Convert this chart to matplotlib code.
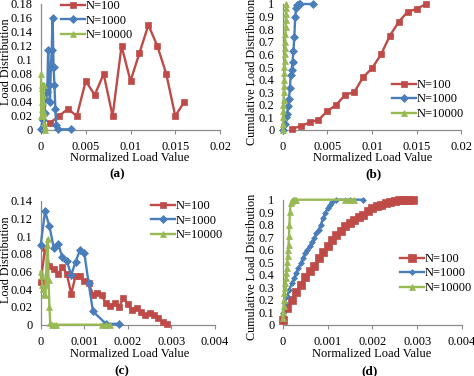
import matplotlib
matplotlib.use('Agg')
import matplotlib.pyplot as plt

# colours (Excel 2007 defaults)
RED = '#BE4B48'
BLUE = '#4A7EBB'
GREEN = '#98B954'
labels = ['N=100', 'N=1000', 'N=10000']

# ---- panel (a): load distribution
a_x100 = [0.001, 0.002, 0.003, 0.004, 0.005, 0.006, 0.007, 0.008, 0.009, 0.010, 0.011, 0.012, 0.013, 0.014, 0.015, 0.016]
a_y100 = [0.01, 0.02, 0.03, 0.02, 0.07, 0.05, 0.08, 0.02, 0.12, 0.07, 0.11, 0.15, 0.12, 0.08, 0.02, 0.04]
a_x1000 = [0.0, 0.0002, 0.0004, 0.0005, 0.0006, 0.0007, 0.0008, 0.0009, 0.0010, 0.0011, 0.0012, 0.0013, 0.0014, 0.0015, 0.0016, 0.0017, 0.0019, 0.0034]
a_y1000 = [0.002, 0.015, 0.025, 0.045, 0.06, 0.055, 0.115, 0.065, 0.04, 0.09, 0.115, 0.16, 0.09, 0.065, 0.03, 0.007, 0.001, 0.001]
a_x10000 = [0.0, 0.00003, 0.00006, 0.00009, 0.00012, 0.00015, 0.00018, 0.00021, 0.00024, 0.00027, 0.0003, 0.00033, 0.00036, 0.0004, 0.00045]
a_y10000 = [0.08, 0.02, 0.065, 0.04, 0.06, 0.03, 0.065, 0.05, 0.02, 0.04, 0.065, 0.025, 0.01, 0.005, 0.0]

# ---- panel (b): cumulative
b_x100 = a_x100
b_y100 = [0.01, 0.03, 0.06, 0.08, 0.15, 0.2, 0.28, 0.3, 0.42, 0.49, 0.6, 0.75, 0.86, 0.94, 0.96, 1.0]
b_x1000 = [0.0, 0.0003, 0.0004, 0.0005, 0.0006, 0.0007, 0.0008, 0.0009, 0.001, 0.0011, 0.0012, 0.0013, 0.0014, 0.0015, 0.0016, 0.0018, 0.0019, 0.0034]
b_y1000 = [0.0, 0.05, 0.1, 0.13, 0.19, 0.25, 0.33, 0.44, 0.48, 0.54, 0.63, 0.74, 0.9, 0.97, 0.99, 1.0, 1.0, 1.0]
b_x10000 = [0.0, 0.00002, 0.00004, 0.00006, 0.00008, 0.0001, 0.00012, 0.00014, 0.00016, 0.00018, 0.0002, 0.00022, 0.00024,
            0.00026, 0.00028, 0.0003, 0.00032, 0.00034, 0.00036, 0.00038, 0.0004]
b_y10000 = [0.0, 0.05, 0.1, 0.15, 0.2, 0.24, 0.3, 0.35, 0.4, 0.45, 0.5, 0.55, 0.6, 0.65, 0.7, 0.76, 0.82, 0.87, 0.92, 0.97, 1.0]

# ---- panel (c): load distribution (zoomed)
c_x100 = [0.0, 0.0001, 0.0002, 0.0003, 0.0004, 0.0005, 0.0006, 0.0007, 0.0008, 0.0009, 0.001, 0.0011, 0.0012, 0.0013, 0.0014,
          0.0015, 0.0016, 0.0017, 0.0018, 0.0019, 0.002, 0.0021, 0.0022, 0.0023, 0.0024, 0.0025, 0.0026, 0.0027, 0.0028, 0.0029]
c_y100 = [0.048, 0.087, 0.066, 0.063, 0.057, 0.065, 0.057, 0.035, 0.055, 0.055, 0.049, 0.047, 0.034, 0.036, 0.033,
          0.024, 0.021, 0.025, 0.02, 0.03, 0.023, 0.017, 0.019, 0.014, 0.011, 0.013, 0.011, 0.0075, 0.003, 0.001]
c_x1000 = [0.0, 0.0001, 0.0002, 0.0003, 0.0004, 0.0005, 0.0006, 0.0007, 0.0008, 0.0009, 0.001, 0.0011, 0.0012, 0.0015, 0.0018]
c_y1000 = [0.09, 0.128, 0.111, 0.087, 0.091, 0.076, 0.072, 0.056, 0.071, 0.084, 0.081, 0.047, 0.015, 0.001, 0.001]
c_x10000 = [0.0, 0.00002, 0.00004, 0.00006, 0.00008, 0.0001, 0.00012, 0.00014, 0.00016, 0.00018, 0.0002, 0.00022, 0.00025,
            0.0003, 0.00035, 0.0014, 0.0015, 0.0016]
c_y10000 = [0.06, 0.055, 0.045, 0.04, 0.035, 0.033, 0.045, 0.09, 0.097, 0.05, 0.02, 0.002, 0.0, 0.0, 0.0, 0.0, 0.0, 0.0]

# ---- panel (d): cumulative (zoomed)
d_x100 = c_x100
d_y100 = [0.04, 0.13, 0.2, 0.26, 0.32, 0.38, 0.43, 0.47, 0.53, 0.58, 0.63, 0.68, 0.72, 0.75, 0.79,
          0.81, 0.84, 0.86, 0.88, 0.91, 0.93, 0.95, 0.96, 0.975, 0.985, 0.99, 0.995, 1.0, 1.0, 1.0]
d_x1000 = [0.0, 0.00005, 0.0001, 0.00015, 0.0002, 0.00025, 0.0003, 0.00035, 0.0004, 0.00045, 0.0005, 0.00055, 0.0006,
           0.00065, 0.0007, 0.00075, 0.0008, 0.00085, 0.0009, 0.00095, 0.001, 0.00105, 0.0011, 0.0012, 0.0015, 0.0018]
d_y1000 = [0.09, 0.17, 0.23, 0.28, 0.33, 0.37, 0.41, 0.45, 0.49, 0.53, 0.57, 0.6, 0.63,
           0.66, 0.69, 0.73, 0.76, 0.8, 0.85, 0.89, 0.93, 0.96, 0.98, 1.0, 1.0, 1.0]
d_x10000 = [0.0, 0.00001, 0.00002, 0.00003, 0.00004, 0.00005, 0.00006, 0.00007, 0.00008, 0.00009, 0.0001, 0.00011, 0.00012,
            0.00013, 0.00014, 0.00015, 0.00016, 0.00018, 0.0002, 0.00022, 0.00025, 0.00028, 0.0003, 0.0014, 0.0015, 0.0016]
d_y10000 = [0.05, 0.1, 0.15, 0.2, 0.25, 0.29, 0.33, 0.37, 0.41, 0.45, 0.5, 0.55, 0.6,
            0.64, 0.71, 0.8, 0.9, 0.97, 0.99, 1.0, 1.0, 1.0, 1.0, 1.0, 1.0, 1.0]

plt.rcParams['font.family'] = ['Liberation Serif', 'DejaVu Serif']
plt.rcParams['font.size'] = 9

W, H = 474, 376
fig = plt.figure(figsize=(W / 100, H / 100), dpi=100)


def px_axes(x0, x1, ytop, ybot):
    return fig.add_axes([x0 / W, 1 - ybot / H, (x1 - x0) / W, (ybot - ytop) / H])


def style(ax, xlim, ylim, xticks, xlabels, yticks, ylabels):
    ax.set_xlim(*xlim)
    ax.set_ylim(*ylim)
    ax.set_xticks(xticks)
    ax.set_xticklabels(xlabels)
    ax.set_yticks(yticks)
    ax.set_yticklabels(ylabels)
    for s in ['top', 'right']:
        ax.spines[s].set_visible(False)
    for s in ['left', 'bottom']:
        ax.spines[s].set_color('#8c8c8c')
        ax.spines[s].set_linewidth(0.9)
    ax.tick_params(axis='x', length=3, width=0.8, color='#8c8c8c', pad=5)
    ax.tick_params(axis='y', length=0, pad=6)
    for sp in ax.spines.values():
        sp.set_zorder(0)


def draw(ax, data, sizes):
    cols = [RED, BLUE, GREEN]
    marks = ['s', 'D', '^']
    for (x, y), c, m, ms, lab in zip(data, cols, marks, sizes, labels):
        ax.plot(x, y, color=c, marker=m, markersize=ms, lw=1.7, label=lab, clip_on=False,
                markeredgewidth=0.5, markeredgecolor=c)


def legend(ax, xpx, ypx):
    ax.legend(loc='upper left', bbox_to_anchor=(xpx / W, 1 - ypx / H), bbox_transform=fig.transFigure,
              frameon=False, handlelength=1.9, handletextpad=0.1, labelspacing=0.2, borderpad=0,
              borderaxespad=0, fontsize=9)


# (a)
axa = px_axes(41, 220, 4, 130)
draw(axa, [(a_x100, a_y100), (a_x1000, a_y1000), (a_x10000, a_y10000)], [4.6, 3.8, 4.3])
style(axa, (0, 0.02), (0, 0.18), [0, 0.005, 0.01, 0.015, 0.02], ['0', '0.005', '0.01', '0.015', '0.02'],
      [i * 0.02 for i in range(10)], ['0', '0.02', '0.04', '0.06', '0.08', '0.1', '0.12', '0.14', '0.16', '0.18'])
legend(axa, 61, 0)

# (b)
axb = px_axes(282.7, 461.5, 4, 130)
draw(axb, [(b_x100, b_y100), (b_x1000, b_y1000), (b_x10000, b_y10000)], [4.6, 3.8, 4.3])
style(axb, (0, 0.02), (0, 1), [0, 0.005, 0.01, 0.015, 0.02], ['0', '0.005', '0.01', '0.015', '0.02'],
      [i * 0.1 for i in range(11)], ['0', '0.1', '0.2', '0.3', '0.4', '0.5', '0.6', '0.7', '0.8', '0.9', '1'])
legend(axb, 392, 79)

# (c)
axc = px_axes(40.7, 215, 200.7, 324.7)
draw(axc, [(c_x100, c_y100), (c_x1000, c_y1000), (c_x10000, c_y10000)], [4.2, 3.8, 4.3])
style(axc, (0, 0.004), (0, 0.14), [0, 0.001, 0.002, 0.003, 0.004], ['0', '0.001', '0.002', '0.003', '0.004'],
      [i * 0.02 for i in range(8)], ['0', '0.02', '0.04', '0.06', '0.08', '0.1', '0.12', '0.14'])
legend(axc, 151, 200)

# (d)
axd = px_axes(282.7, 462, 199.7, 324.7)
draw(axd, [(d_x100, d_y100), (d_x1000, d_y1000), (d_x10000, d_y10000)], [6.0, 3.0, 4.3])
style(axd, (0, 0.004), (0, 1), [0, 0.001, 0.002, 0.003, 0.004], ['0', '0.001', '0.002', '0.003', '0.004'],
      [i * 0.1 for i in range(11)], ['0', '0.1', '0.2', '0.3', '0.4', '0.5', '0.6', '0.7', '0.8', '0.9', '1'])
legend(axd, 400, 253)

# axis titles and panel letters
def ftext(x, y, s, **kw):
    fig.text(x / W, 1 - y / H, s, ha='center', va='center', **kw)

ftext(130, 158, 'Normalized Load Value', fontsize=9)
ftext(373, 158, 'Normalized Load Value', fontsize=9)
ftext(130, 354, 'Normalized Load Value', fontsize=9)
ftext(372, 354, 'Normalized Load Value', fontsize=9)
ftext(6, 62, 'Load Distribution', rotation=90, fontsize=8.7)
ftext(252, 72, 'Cumulative Load Distribution', rotation=90, fontsize=8.7)
ftext(6, 260, 'Load Distribution', rotation=90, fontsize=8.7)
ftext(252, 267, 'Cumulative Load Distribution', rotation=90, fontsize=8.7)
ftext(117, 174, '(a)', fontsize=9.5, fontweight='bold')
ftext(374, 174, '(b)', fontsize=9.5, fontweight='bold')
ftext(122, 371, '(c)', fontsize=9.5, fontweight='bold')
ftext(370, 371, '(d)', fontsize=9.5, fontweight='bold')

fig.savefig('out.png', dpi=100)
